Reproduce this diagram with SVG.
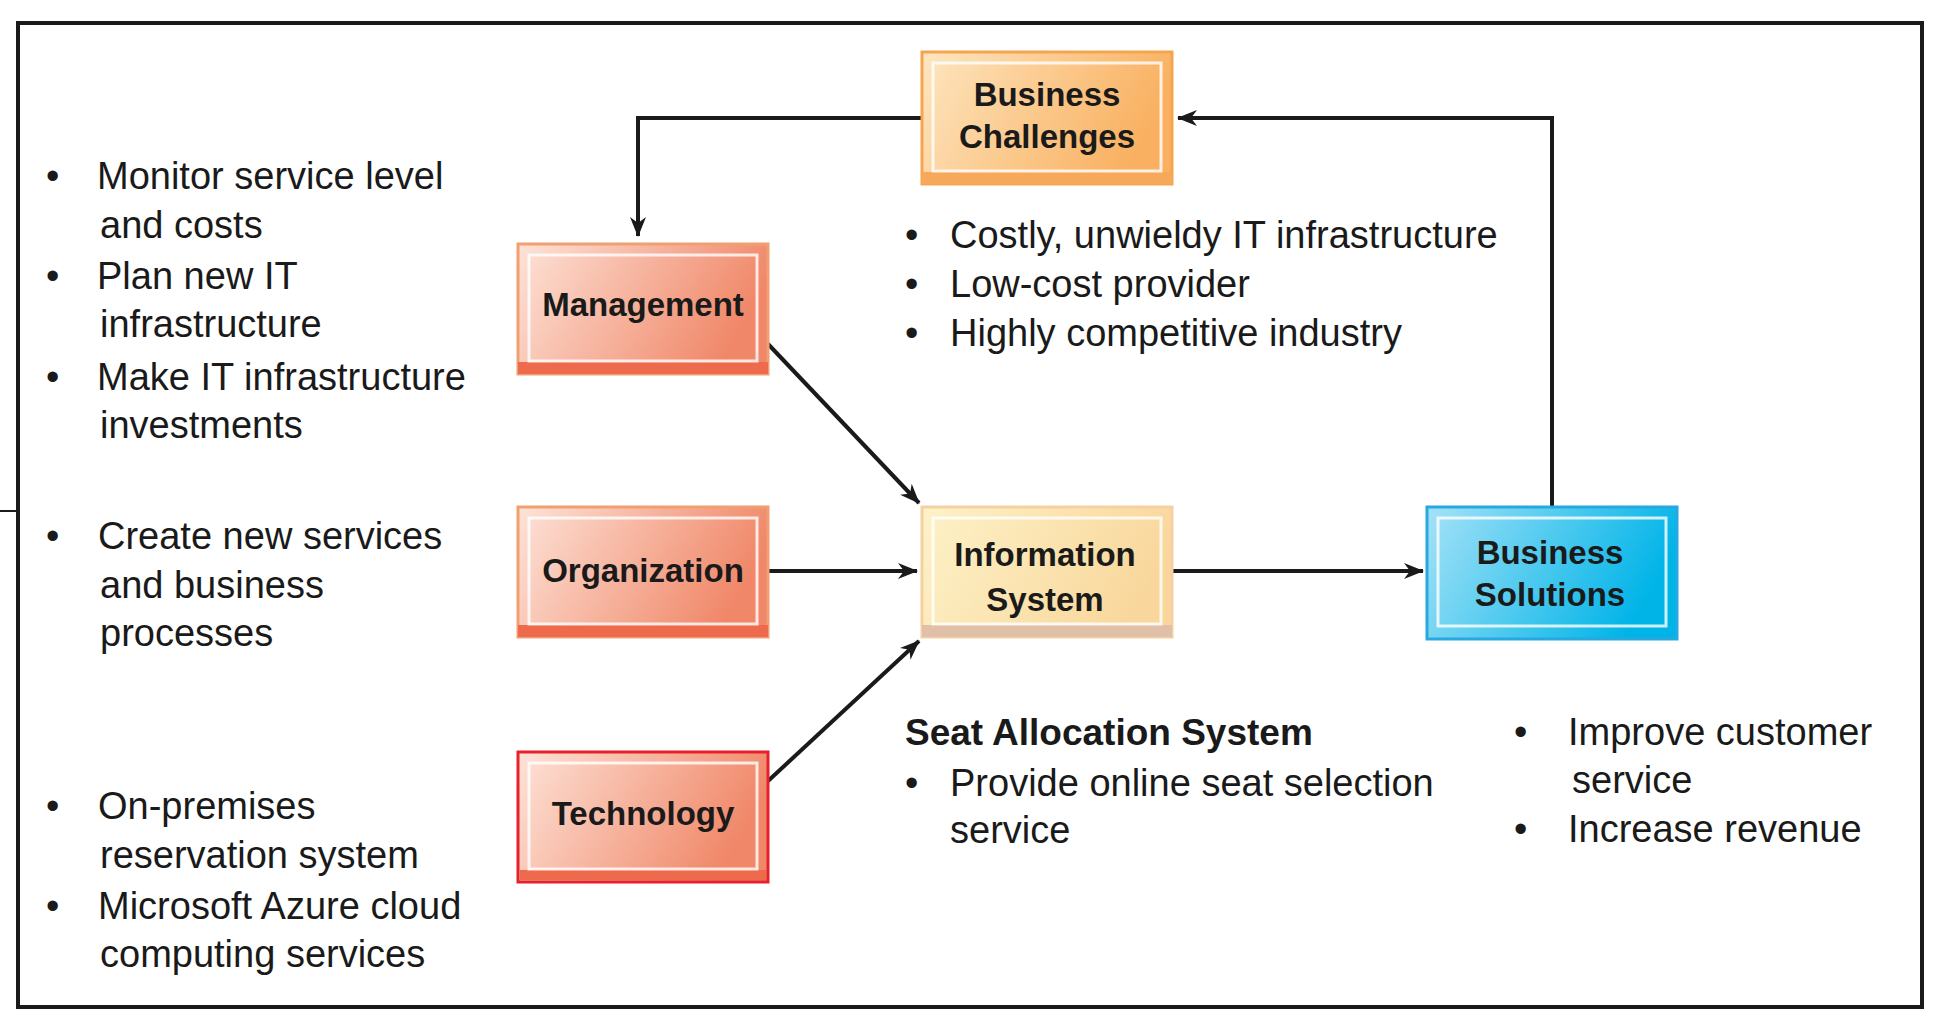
<svg xmlns="http://www.w3.org/2000/svg" width="1951" height="1026" viewBox="0 0 1951 1026">
<defs>
<linearGradient id="gRed" x1="0" y1="0" x2="1" y2="0.3"><stop offset="0" stop-color="#fde3d8"/><stop offset="1" stop-color="#f08768"/></linearGradient>
<linearGradient id="gOr" x1="0" y1="0" x2="1" y2="0.3"><stop offset="0" stop-color="#fde6c0"/><stop offset="1" stop-color="#f9b060"/></linearGradient>
<linearGradient id="gYe" x1="0" y1="0" x2="1" y2="0.3"><stop offset="0" stop-color="#fdf2c8"/><stop offset="1" stop-color="#f9d79c"/></linearGradient>
<linearGradient id="gBl" x1="0" y1="0" x2="1" y2="0.3"><stop offset="0" stop-color="#a5e2f7"/><stop offset="1" stop-color="#00b4e8"/></linearGradient>
<marker id="ah" viewBox="0 0 20 16" refX="19" refY="8" markerWidth="20" markerHeight="16" markerUnits="userSpaceOnUse" orient="auto"><path d="M0,0 L20,8 L0,16 L6,8 Z" fill="#1a1a1a"/></marker>
</defs>
<style>
text{font-family:"Liberation Sans",Arial,sans-serif;fill:#1a1a1a}
.t{font-size:38px}
.b{font-size:33px;font-weight:bold;text-anchor:middle}
.h{font-size:37px;font-weight:bold}
.in{fill:none;stroke:#fff;stroke-width:3;opacity:0.8}
.c{fill:none;stroke:#1a1a1a;stroke-width:4;marker-end:url(#ah)}
</style>
<rect width="1951" height="1026" fill="#fff"/>
<rect x="18" y="23" width="1904" height="984" fill="none" stroke="#1a1a1a" stroke-width="4"/>
<line x1="0" y1="511" x2="18" y2="511" stroke="#1a1a1a" stroke-width="2"/>

<g id="connectors">
<polyline class="c" points="922,118 638,118 638,236"/>
<polyline class="c" points="1552,507 1552,118 1178,118"/>
<line class="c" x1="768" y1="344" x2="919" y2="503"/>
<line class="c" x1="768" y1="571" x2="917" y2="571"/>
<line class="c" x1="768" y1="781" x2="919" y2="641"/>
<line class="c" x1="1172" y1="571" x2="1423" y2="571"/>
</g>

<g id="business-challenges">
<rect x="922" y="52" width="250" height="132" fill="url(#gOr)" stroke="#f5a550" stroke-width="3"/>
<rect x="922" y="172" width="250" height="12" fill="#f8a85a"/>
<rect x="933" y="63" width="228" height="108" class="in"/>
<text class="b" x="1047" y="106">Business</text><text class="b" x="1047" y="148">Challenges</text>
</g>
<g id="management">
<rect x="518" y="244" width="250" height="130" fill="url(#gRed)" stroke="#f0a070" stroke-width="3"/>
<rect x="518" y="362" width="250" height="12" fill="#ee6a4c"/>
<rect x="529" y="255" width="228" height="106" class="in"/>
<text class="b" x="643" y="316">Management</text>
</g>
<g id="organization">
<rect x="518" y="507" width="250" height="130" fill="url(#gRed)" stroke="#f0a070" stroke-width="3"/>
<rect x="518" y="625" width="250" height="12" fill="#ee6a4c"/>
<rect x="529" y="518" width="228" height="106" class="in"/>
<text class="b" x="643" y="582">Organization</text>
</g>
<g id="technology">
<rect x="518" y="752" width="250" height="130" fill="url(#gRed)" stroke="#e8202a" stroke-width="3"/>
<rect x="520" y="870" width="246" height="10" fill="#ee6a4c"/>
<rect x="529" y="763" width="228" height="106" class="in"/>
<text class="b" x="643" y="825">Technology</text>
</g>
<g id="information-system">
<rect x="922" y="507" width="250" height="130" fill="url(#gYe)" stroke="#f6d0a0" stroke-width="3"/>
<rect x="922" y="625" width="250" height="12" fill="#e0c0a8"/>
<rect x="933" y="518" width="228" height="106" class="in"/>
<text class="b" x="1045" y="566">Information</text><text class="b" x="1045" y="611">System</text>
</g>
<g id="business-solutions">
<rect x="1427" y="507" width="250" height="132" fill="url(#gBl)" stroke="#27a9e0" stroke-width="3"/>
<rect x="1438" y="518" width="228" height="108" class="in"/>
<text class="b" x="1550" y="564">Business</text><text class="b" x="1550" y="606">Solutions</text>
</g>

<g id="left-text" class="t">
<text x="46" y="189">•</text><text x="97" y="189">Monitor service level</text><text x="100" y="238">and costs</text>
<text x="46" y="289">•</text><text x="97" y="289">Plan new IT</text><text x="100" y="337">infrastructure</text>
<text x="46" y="390">•</text><text x="97" y="390">Make IT infrastructure</text><text x="100" y="438">investments</text>
<text x="46" y="549">•</text><text x="98" y="549">Create new services</text><text x="100" y="598">and business</text><text x="100" y="646">processes</text>
<text x="46" y="819">•</text><text x="98" y="819">On-premises</text><text x="100" y="868">reservation system</text>
<text x="46" y="919">•</text><text x="98" y="919">Microsoft Azure cloud</text><text x="100" y="967">computing services</text>
</g>
<g id="challenge-text" class="t">
<text x="905" y="248">•</text><text x="950" y="248">Costly, unwieldy IT infrastructure</text>
<text x="905" y="297">•</text><text x="950" y="297">Low-cost provider</text>
<text x="905" y="346">•</text><text x="950" y="346">Highly competitive industry</text>
</g>
<g id="system-text">
<text class="h" x="905" y="745">Seat Allocation System</text>
<text class="t" x="905" y="796">•</text><text class="t" x="950" y="796">Provide online seat selection</text><text class="t" x="950" y="843">service</text>
</g>
<g id="solution-text" class="t">
<text x="1514" y="745">•</text><text x="1568" y="745">Improve customer</text><text x="1572" y="793">service</text>
<text x="1514" y="842">•</text><text x="1568" y="842">Increase revenue</text>
</g>
</svg>
